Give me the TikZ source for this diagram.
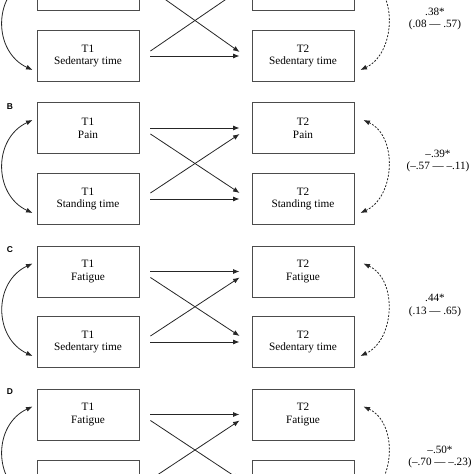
\documentclass[tikz,border=0pt]{standalone}
\usepackage{fontspec}
\setmainfont{Liberation Serif}
\newfontfamily\panelfont{Liberation Sans}
\usetikzlibrary{arrows.meta}

\tikzset{
  box/.style={draw=black!70, line width=0.9bp, minimum width=102bp, minimum height=51bp,
    inner sep=0pt, align=center, font=\fontsize{11.3}{13}\selectfont},
  path/.style={draw=black!85, line width=0.8bp, -{Latex[length=6.5bp,width=5bp]}},
  cov/.style={draw=black!85, line width=0.8bp, {Latex[length=6.5bp,width=5bp]}-{Latex[length=6.5bp,width=5bp]}},
  covd/.style={cov, dash pattern=on 2bp off 1.5bp},
  coef/.style={align=center, font=\fontsize{11.2}{12.8}\selectfont},
  panellab/.style={font=\panelfont\bfseries\fontsize{8.5}{10}\selectfont}
}

\begin{document}
\begin{tikzpicture}[x=1bp, y=1bp]

    % Canvas of the reference, panels A and D run past its edges
    \useasboundingbox (0,0) rectangle (474,-474);
    \clip (0,0) rectangle (474,-474);

    % Panel A (top row cut off)
    \node[box] (A11) at (88,15) {};
    \node[box] (A12) at (88,-56) {T1\\Sedentary time};
    \node[box] (A21) at (303,15) {};
    \node[box] (A22) at (303,-56) {T2\\Sedentary time};
    \draw[path] ([xshift=11bp]A11.east) -- ([xshift=-12bp]A21.west);
    \draw[path] ([xshift=11bp]A12.east) -- ([xshift=-12bp]A22.west);
    \draw[path] ([xshift=11bp,yshift=-4bp]A11.east) -- ([xshift=-12bp,yshift=4bp]A22.west);
    \draw[path] ([xshift=11bp,yshift=5bp]A12.east) -- ([xshift=-12bp,yshift=-5bp]A21.west);
    \draw[cov] ([xshift=-4bp,yshift=8bp]A11.west) to[out=205,in=155,looseness=1.2] ([xshift=-4bp,yshift=-14bp]A12.west);
    \draw[cov,covd] ([xshift=9bp,yshift=8bp]A21.east) to[out=-25,in=25,looseness=1.05] ([xshift=6bp,yshift=-14bp]A22.east);
    \node[coef] (rA) at (435,-19) {.38*\\(.08 — .57)};

    % Panel B
    \node[panellab] (labB) at (10,-107) {B};
    \node[box] (B11) at (88,-128) {T1\\Pain};
    \node[box] (B12) at (88,-199) {T1\\Standing time};
    \node[box] (B21) at (303,-128) {T2\\Pain};
    \node[box] (B22) at (303,-199) {T2\\Standing time};
    \draw[path] ([xshift=11bp]B11.east) -- ([xshift=-12bp]B21.west);
    \draw[path] ([xshift=11bp]B12.east) -- ([xshift=-12bp]B22.west);
    \draw[path] ([xshift=11bp,yshift=-6bp]B11.east) -- ([xshift=-12bp,yshift=6bp]B22.west);
    \draw[path] ([xshift=11bp,yshift=6bp]B12.east) -- ([xshift=-12bp,yshift=-6bp]B21.west);
    \draw[cov] ([xshift=-4bp,yshift=8bp]B11.west) to[out=205,in=155,looseness=1.2] ([xshift=-4bp,yshift=-14bp]B12.west);
    \draw[cov,covd] ([xshift=9bp,yshift=8bp]B21.east) to[out=-25,in=25,looseness=1.05] ([xshift=6bp,yshift=-14bp]B22.east);
    \node[coef] (rB) at (438,-161) {–.39*\\(–.57 — –.11)};

    % Panel C
    \node[panellab] (labC) at (10,-250) {C};
    \node[box] (C11) at (88,-271.5) {T1\\Fatigue};
    \node[box] (C12) at (88,-342) {T1\\Sedentary time};
    \node[box] (C21) at (303,-271.5) {T2\\Fatigue};
    \node[box] (C22) at (303,-342) {T2\\Sedentary time};
    \draw[path] ([xshift=11bp]C11.east) -- ([xshift=-12bp]C21.west);
    \draw[path] ([xshift=11bp]C12.east) -- ([xshift=-12bp]C22.west);
    \draw[path] ([xshift=11bp,yshift=-6bp]C11.east) -- ([xshift=-12bp,yshift=6bp]C22.west);
    \draw[path] ([xshift=11bp,yshift=6bp]C12.east) -- ([xshift=-12bp,yshift=-6bp]C21.west);
    \draw[cov] ([xshift=-4bp,yshift=8bp]C11.west) to[out=205,in=155,looseness=1.2] ([xshift=-4bp,yshift=-14bp]C12.west);
    \draw[cov,covd] ([xshift=9bp,yshift=8bp]C21.east) to[out=-25,in=25,looseness=1.05] ([xshift=6bp,yshift=-14bp]C22.east);
    \node[coef] (rC) at (435,-305.5) {.44*\\(.13 — .65)};

    % Panel D (bottom row cut off)
    \node[panellab] (labD) at (10,-392) {D};
    \node[box] (D11) at (88,-414.5) {T1\\Fatigue};
    \node[box] (D12) at (88,-485.5) {};
    \node[box] (D21) at (303,-414.5) {T2\\Fatigue};
    \node[box] (D22) at (303,-485.5) {};
    \draw[path] ([xshift=11bp]D11.east) -- ([xshift=-12bp]D21.west);
    \draw[path] ([xshift=11bp,yshift=-6bp]D11.east) -- ([xshift=-12bp,yshift=6bp]D22.west);
    \draw[path] ([xshift=11bp,yshift=6bp]D12.east) -- ([xshift=-12bp,yshift=-6bp]D21.west);
    \draw[cov] ([xshift=-4bp,yshift=8bp]D11.west) to[out=205,in=155,looseness=1.2] ([xshift=-4bp,yshift=-14bp]D12.west);
    \draw[cov,covd] ([xshift=9bp,yshift=8bp]D21.east) to[out=-25,in=25,looseness=1.05] ([xshift=6bp,yshift=-14bp]D22.east);
    \node[coef] (rD) at (440,-457) {–.50*\\(–.70 — –.23)};

\end{tikzpicture}
\end{document}
